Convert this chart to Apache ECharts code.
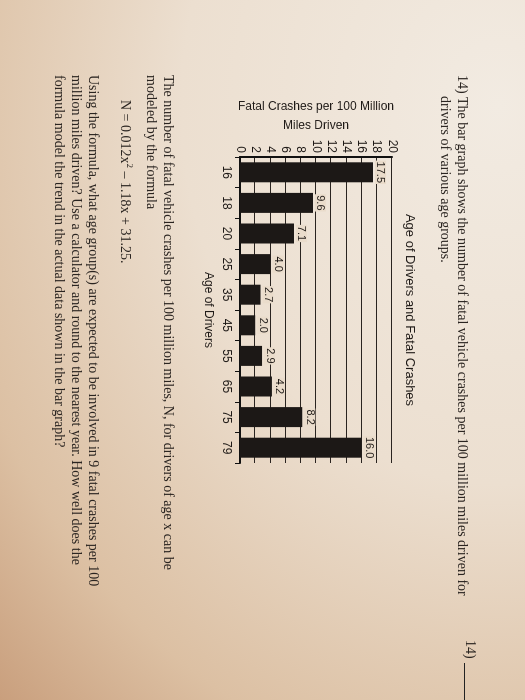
<!DOCTYPE html>
<html><head><meta charset="utf-8">
<script src="https://cdn.jsdelivr.net/npm/echarts@6/dist/echarts.min.js"></script>
<style>
html,body{margin:0;padding:0;width:525px;height:700px;overflow:hidden;background:#e6d8c6;}
#page{position:absolute;left:0;top:0;width:700px;height:525px;transform-origin:0 0;transform:translate(525px,0) rotate(90deg);
 background:radial-gradient(ellipse at 15% 5%, #f2ebe2 0%, #ecdfd0 45%, #dcc0a3 80%, #c99f7d 100%);}
#chart{position:absolute;left:0;top:0;width:700px;height:525px;}
.t{position:absolute;font-family:"Liberation Serif",serif;font-size:14px;color:#2a2420;white-space:nowrap;line-height:16px;}
</style></head><body>
<div id="page">
<div id="chart"></div>
<div class="t" style="left:75px;top:55px;">14) The bar graph shows the number of fatal vehicle crashes per 100 million miles driven for</div>
<div class="t" style="left:96px;top:72px;">drivers of various age groups.</div>
<div class="t" style="left:640px;top:47px;">14)</div>
<div style="position:absolute;left:663px;top:60px;width:40px;border-top:1px solid #222;"></div>
<div class="t" style="left:75px;top:349px;">The number of fatal vehicle crashes per 100 million miles, N, for drivers of age x can be</div>
<div class="t" style="left:75px;top:366px;">modeled by the formula</div>
<div class="t" style="left:100px;top:387px;">N = 0.012x<sup style="font-size:9px">2</sup> &#8211; 1.18x + 31.25.</div>
<div class="t" style="left:75px;top:424px;">Using the formula, what age group(s) are expected to be involved in 9 fatal crashes per 100</div>
<div class="t" style="left:75px;top:441px;">million miles driven? Use a calculator and round to the nearest year. How well does the</div>
<div class="t" style="left:75px;top:458px;">formula model the trend in the actual data shown in the bar graph?</div>
</div>
<script>
const ages = ['16','18','20','25','35','45','55','65','75','79'];
const crashes = [17.5, 9.6, 7.1, 4.0, 2.7, 2.0, 2.9, 4.2, 8.2, 16.0];
const valueTicks = [0,2,4,6,8,10,12,14,16,18,20];
const chart = echarts.init(document.getElementById('chart'), null, {width:700,height:525});
const sans = 'Liberation Sans, Arial, sans-serif';
chart.setOption({
  animation:false,
  title:{text:'Age of Drivers and Fatal Crashes',left:305,top:104,textAlign:'center',
    textStyle:{fontFamily:sans,fontSize:13,fontWeight:'normal',color:'#1f1a17'}},
  grid:{left:157,right:237,top:133,bottom:240},
  xAxis:{type:'category',data:ages,name:'Age of Drivers',nameLocation:'middle',nameGap:26,
    nameTextStyle:{fontFamily:sans,fontSize:12,color:'#1f1a17'},
    axisLine:{lineStyle:{color:'#111',width:2}},axisTick:{show:true,alignWithLabel:false,lineStyle:{color:'#111'}},
    axisLabel:{fontFamily:sans,fontSize:12,color:'#1f1a17',margin:8}},
  yAxis:{type:'value',min:0,max:20,interval:2,
    name:'Fatal Crashes per 100 Million\nMiles Driven',nameLocation:'middle',nameRotate:90,nameGap:22,
    nameTextStyle:{fontFamily:sans,fontSize:12,color:'#1f1a17',lineHeight:19},
    axisLine:{show:true,lineStyle:{color:'#111',width:2}},axisTick:{show:false},
    axisLabel:{fontFamily:sans,fontSize:12,color:'#1f1a17',margin:4,formatter:v=>valueTicks.includes(v)?String(v):''},
    splitLine:{show:true,lineStyle:{color:'#2a2420',width:1}}},
  series:[{type:'bar',data:crashes,barWidth:20,itemStyle:{color:'#1c1816'},
    label:{show:true,position:'top',distance:2,fontFamily:sans,fontSize:11,color:'#1f1a17',
      formatter:p=>p.value.toFixed(1),backgroundColor:'#eadccb',padding:[0,1]}}]
});
</script>
</body></html>
